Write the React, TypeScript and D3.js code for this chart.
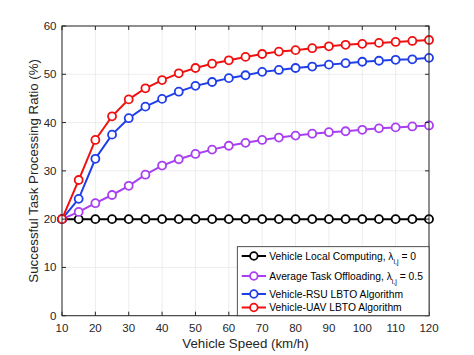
import React from "react";
import * as d3 from "d3";

const speeds = [10, 15, 20, 25, 30, 35, 40, 45, 50, 55, 60, 65, 70, 75, 80, 85, 90, 95, 100, 105, 110, 115, 120];
const localComputing = speeds.map(() => 20);
const averageOffloading = [20, 21.5, 23.3, 25.0, 26.9, 29.2, 31.1, 32.4, 33.5, 34.4, 35.2, 35.8, 36.4, 36.9, 37.3, 37.7, 38.0, 38.2, 38.5, 38.8, 39.0, 39.2, 39.4];
const rsuLBTO = [20, 24.2, 32.5, 37.5, 40.9, 43.3, 44.9, 46.4, 47.6, 48.4, 49.2, 49.8, 50.5, 50.9, 51.3, 51.6, 52.0, 52.3, 52.6, 52.8, 53.0, 53.1, 53.4];
const uavLBTO = [20, 28.1, 36.4, 41.3, 44.8, 47.1, 48.8, 50.2, 51.3, 52.2, 52.9, 53.6, 54.2, 54.7, 55.0, 55.4, 55.8, 56.1, 56.3, 56.5, 56.7, 56.9, 57.1];
const xTicks = [10, 20, 30, 40, 50, 60, 70, 80, 90, 100, 110, 120];
const yTicks = [0, 10, 20, 30, 40, 50, 60];

const series = [
  { name: "Vehicle Local Computing, λ", sub: "i,j", tail: " = 0", values: localComputing, color: "#000000" },
  { name: "Average Task Offloading, λ", sub: "i,j", tail: " = 0.5", values: averageOffloading, color: "#a83ff0" },
  { name: "Vehicle-RSU LBTO Algorithm", sub: "", tail: "", values: rsuLBTO, color: "#1f3de8" },
  { name: "Vehicle-UAV LBTO Algorithm", sub: "", tail: "", values: uavLBTO, color: "#f01010" },
];

const W = 474, H = 355;
const M = { left: 62, right: 429, top: 26, bottom: 315.7 };
const font = "Arial, 'Liberation Sans', Helvetica, sans-serif";

export default function App() {
  const x = d3.scaleLinear().domain([10, 120]).range([M.left, M.right]);
  const y = d3.scaleLinear().domain([0, 60]).range([M.bottom, M.top]);
  const line = d3.line<number>().x((_, i) => x(speeds[i])).y((v) => y(v));
  const axisColor = "#262626";
  const legendRows = [256, 276, 294, 307.5];
  const lx0 = 241.7, lx1 = 266;
  return (
    <svg width={W} height={H} style={{ position: "absolute", left: 0, top: 0, background: "#fff" }} fontFamily={font}>
      <rect x={0} y={0} width={W} height={H} fill="#fff" />
      {xTicks.map((t) => (
        <line key={"gx" + t} x1={x(t)} x2={x(t)} y1={M.top} y2={M.bottom} stroke="#e8e8e8" strokeWidth={0.8} />
      ))}
      {yTicks.map((t) => (
        <line key={"gy" + t} x1={M.left} x2={M.right} y1={y(t)} y2={y(t)} stroke="#e8e8e8" strokeWidth={0.8} />
      ))}
      {series.map((s) => (
        <g key={s.name}>
          <path d={line(s.values) || ""} fill="none" stroke={s.color} strokeWidth={2} />
          {s.values.map((v, i) => (
            <circle key={i} cx={x(speeds[i])} cy={y(v)} r={4} fill="#fff" stroke={s.color} strokeWidth={1.8} />
          ))}
        </g>
      ))}
      <rect x={M.left} y={M.top} width={M.right - M.left} height={M.bottom - M.top} fill="none" stroke={axisColor} strokeWidth={1} />
      {xTicks.map((t) => (
        <g key={"tx" + t}>
          <line x1={x(t)} x2={x(t)} y1={M.bottom} y2={M.bottom - 4} stroke={axisColor} />
          <line x1={x(t)} x2={x(t)} y1={M.top} y2={M.top + 4} stroke={axisColor} />
          <text x={x(t)} y={332} textAnchor="middle" fontSize={11.5} fill="#262626">{t}</text>
        </g>
      ))}
      {yTicks.map((t) => (
        <g key={"ty" + t}>
          <line x1={M.left} x2={M.left + 4} y1={y(t)} y2={y(t)} stroke={axisColor} />
          <line x1={M.right} x2={M.right - 4} y1={y(t)} y2={y(t)} stroke={axisColor} />
          <text x={56.5} y={y(t)} dy="0.35em" textAnchor="end" fontSize={11.5} fill="#262626">{t}</text>
        </g>
      ))}
      <text x={(M.left + M.right) / 2} y={347.5} textAnchor="middle" fontSize={13.3} fill="#262626">Vehicle Speed (km/h)</text>
      <text transform={`translate(37.5,${(M.top + M.bottom) / 2}) rotate(-90)`} textAnchor="middle" fontSize={13.3} fill="#262626">
        Successful Task Processing Ratio (%)
      </text>
      <rect x={237.3} y={246.7} width={M.right - 237.3} height={M.bottom - 246.7} fill="#fff" stroke={axisColor} strokeWidth={0.8} />
      {series.map((s, i) => (
        <g key={"lg" + i}>
          <line x1={lx0} x2={lx1} y1={legendRows[i]} y2={legendRows[i]} stroke={s.color} strokeWidth={2} />
          <circle cx={(lx0 + lx1) / 2} cy={legendRows[i]} r={3.8} fill="#fff" stroke={s.color} strokeWidth={1.8} />
          <text x={269.3} y={legendRows[i]} dy="0.35em" fontSize={10.3} fill="#000">
            {s.name}
            {s.sub && <tspan dy="4" fontSize={7}>{s.sub}</tspan>}
            {s.sub && <tspan dy="-4">{s.tail}</tspan>}
          </text>
        </g>
      ))}
    </svg>
  );
}
